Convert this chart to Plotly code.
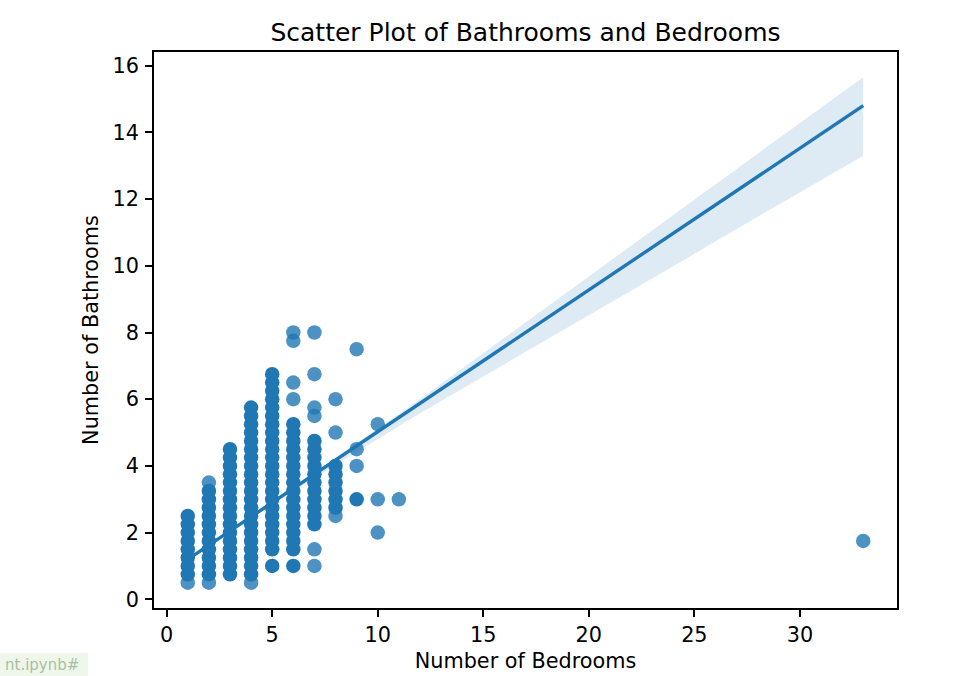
import plotly.graph_objects as go

# ---- data ----
bedrooms_levels = [1, 2, 3, 4, 5, 6, 7, 8, 9, 10, 11, 33]
baths_1 = [0.5, 0.75, 1.0, 1.25, 1.5, 1.75, 2.0, 2.25, 2.5]
baths_2 = [0.5, 0.75, 1.0, 1.25, 1.5, 1.75, 2.0, 2.25, 2.5, 2.75, 3.0, 3.25, 3.5]
baths_3 = [0.75, 1.0, 1.25, 1.5, 1.75, 2.0, 2.25, 2.5, 2.75, 3.0, 3.25, 3.5, 3.75, 4.0, 4.25, 4.5]
baths_4 = [0.5, 0.75, 1.0, 1.25, 1.5, 1.75, 2.0, 2.25, 2.5, 2.75, 3.0, 3.25, 3.5, 3.75, 4.0,
           4.25, 4.5, 4.75, 5.0, 5.25, 5.5, 5.75]
baths_5 = [1.0, 1.5, 1.75, 2.0, 2.25, 2.5, 2.75, 3.0, 3.25, 3.5, 3.75, 4.0, 4.25, 4.5, 4.75,
           5.0, 5.25, 5.5, 5.75, 6.0, 6.25, 6.5, 6.75]
baths_6 = [1.0, 1.5, 1.75, 2.0, 2.25, 2.5, 2.75, 3.0, 3.25, 3.5, 3.75, 4.0, 4.25, 4.5, 4.75,
           5.0, 5.25, 6.0, 6.5, 7.75, 8.0]
baths_7 = [1.0, 1.5, 2.25, 2.5, 2.75, 3.0, 3.25, 3.5, 3.75, 4.0, 4.25, 4.5, 4.75, 5.5, 5.75,
           6.75, 8.0]
baths_8 = [2.5, 2.75, 3.0, 3.25, 3.5, 3.75, 4.0, 5.0, 6.0]
baths_9 = [3.0, 4.0, 4.5, 7.5]
baths_10 = [2.0, 3.0, 5.25]
baths_11 = [3.0]
baths_33 = [1.75]

# points that look like single observations (drawn lighter, no overplotting)
sparse_points = [(1, 0.5), (2, 0.5), (4, 0.5), (2, 3.5), (6, 6.0), (6, 6.5), (6, 7.75),
                 (6, 8.0), (7, 1.0), (7, 1.5), (7, 5.5), (7, 5.75), (7, 6.75), (7, 8.0),
                 (8, 2.5), (8, 5.0), (8, 6.0), (9, 4.0), (9, 4.5), (9, 7.5), (10, 2.0),
                 (10, 3.0), (10, 5.25), (11, 3.0), (33, 1.75)]

# regression line (end points) and its confidence band
reg_x = [1, 33]
reg_y = [1.20, 14.80]
band_x = [1, 3, 5, 8, 12, 16, 20, 24, 28, 33]
band_hi = [1.26, 2.07, 2.93, 4.24, 6.00, 7.84, 9.68, 11.52, 13.36, 15.65]
band_lo = [1.14, 2.03, 2.86, 4.03, 5.58, 7.05, 8.52, 9.99, 11.47, 13.30]

x_ticks = [0, 5, 10, 15, 20, 25, 30]
y_ticks = [0, 2, 4, 6, 8, 10, 12, 14, 16]

TITLE = "Scatter Plot of Bathrooms and Bedrooms"
X_LABEL = "Number of Bedrooms"
Y_LABEL = "Number of Bathrooms"
CORNER_TEXT = "nt.ipynb#"

# ---- build ----
groups = [baths_1, baths_2, baths_3, baths_4, baths_5, baths_6, baths_7, baths_8,
          baths_9, baths_10, baths_11, baths_33]
xs, ys = [], []
for b, vals in zip(bedrooms_levels, groups):
    xs.extend([b] * len(vals))
    ys.extend(vals)
sparse = set(sparse_points)
alphas = [0.8 if (x, y) in sparse else 1.0 for x, y in zip(xs, ys)]

BLUE = "#1f77b4"
FONT = "DejaVu Sans"

W, H = 961, 676
ML, MR, MT, MB = 154, 64, 52, 68
PW, PH = W - ML - MR, H - MT - MB


def px_to_paper_x(fx):
    return (fx - ML) / PW


def px_to_paper_y(fy):
    return (H - MB - fy) / PH


fig = go.Figure()
fig.add_trace(go.Scatter(
    x=xs, y=ys, mode="markers",
    marker=dict(color=BLUE, size=14.5, opacity=alphas, line=dict(width=0)),
    hoverinfo="skip", showlegend=False,
))
fig.add_trace(go.Scatter(
    x=band_x + band_x[::-1], y=band_hi + band_lo[::-1],
    fill="toself", fillcolor="rgba(31,119,180,0.15)", mode="none",
    line=dict(width=0), hoverinfo="skip", showlegend=False,
))
fig.add_trace(go.Scatter(
    x=reg_x, y=reg_y, mode="lines",
    line=dict(color=BLUE, width=3.4), hoverinfo="skip", showlegend=False,
))

axis_common = dict(
    showgrid=False, zeroline=False, automargin=False,
    showline=True, mirror=True, linecolor="black", linewidth=1.6,
    ticks="outside", ticklen=7, tickwidth=1.6, tickcolor="black",
    tickfont=dict(family=FONT, size=20.8, color="black"),
)

fig.update_layout(
    width=W, height=H,
    margin=dict(l=ML, r=MR, t=MT, b=MB, autoexpand=False),
    paper_bgcolor="white", plot_bgcolor="white",
    font=dict(family=FONT, color="black"),
    title=dict(text=TITLE, x=0.5, xref="paper", xanchor="center",
               y=1, yref="paper", yanchor="bottom", pad=dict(b=11),
               font=dict(family=FONT, size=25, color="black"), automargin=False),
    xaxis=dict(range=[-0.6, 34.6], tickvals=x_ticks,
               title=dict(text=X_LABEL, font=dict(family=FONT, size=20.8, color="black"), standoff=8),
               **axis_common),
    yaxis=dict(range=[-0.26, 16.41], tickvals=y_ticks, ticklabelstandoff=2,
               title=dict(text=Y_LABEL, font=dict(family=FONT, size=20.8, color="black"), standoff=8),
               **axis_common),
)

# small green tooltip fragment at the bottom-left corner of the screenshot
fig.add_shape(type="rect", xref="paper", yref="paper",
              x0=px_to_paper_x(0), x1=px_to_paper_x(88),
              y0=px_to_paper_y(676), y1=px_to_paper_y(653),
              fillcolor="#eef7e9", line=dict(width=0), layer="below")
fig.add_annotation(text=CORNER_TEXT, xref="paper", yref="paper",
                   x=px_to_paper_x(3), y=px_to_paper_y(665), xanchor="left", yanchor="middle",
                   showarrow=False, font=dict(family=FONT, size=15, color="#a9bfa5"))

# remove the default page margin so the figure fills the window exactly
fig.write_html(
    "out.html",
    config={"displayModeBar": False},
    post_script="document.body.style.margin='0';document.body.style.overflow='hidden';"
                "document.documentElement.style.overflow='hidden';",
)
